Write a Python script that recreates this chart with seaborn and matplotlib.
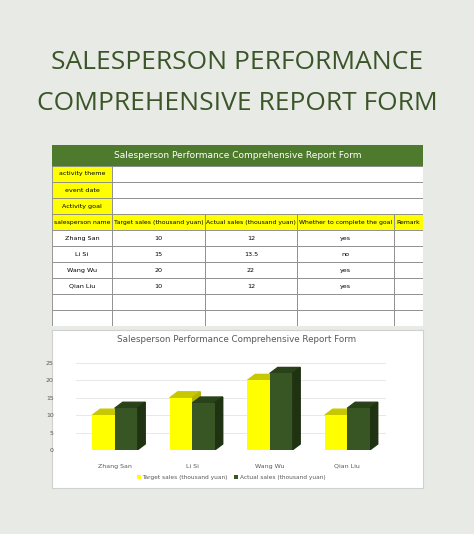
import matplotlib
matplotlib.use("Agg")
import matplotlib.pyplot as plt
from matplotlib.patches import Rectangle, Polygon
import seaborn as sns
import pandas as pd
import numpy as np

names = ["Zhang San", "Li Si", "Wang Wu", "Qian Liu"]
target = [10, 15, 20, 10]
actual = [12, 13.5, 22, 12]
complete = ["yes", "no", "yes", "yes"]
info_labels = ["activity theme", "event date", "Activity goal"]
headers = ["salesperson name", "Target sales (thousand yuan)", "Actual sales (thousand yuan)",
           "Whether to complete the goal", "Remark"]
s_target = "Target sales (thousand yuan)"
s_actual = "Actual sales (thousand yuan)"

W, H = 474, 534
fig = plt.figure(figsize=(W/100, H/100), dpi=100)
fig.patch.set_facecolor("#e8ebe5")
def fx(x): return x / W
def fy(y): return 1 - y / H

fig.text(0.5, fy(62), "SALESPERSON PERFORMANCE", ha="center", va="center", fontsize=19, color="#3b5529", family="Open Sans")
fig.text(0.5, fy(103), "COMPREHENSIVE REPORT FORM", ha="center", va="center", fontsize=19, color="#3b5529", family="Open Sans")

# ---- table (axes in pixel units) ----
tax = fig.add_axes([fx(52), fy(326), fx(423) - fx(52), fy(145) - fy(326)])
tax.set_xlim(52, 423); tax.set_ylim(326, 145); tax.axis("off")
cols = [52, 112, 205, 297, 394, 423]
green = "#4e7a2e"; yellow = "#ffff00"
tax.add_patch(Rectangle((52, 145), 371, 21, color=green))
tax.text(237.5, 155.5, "Salesperson Performance Comprehensive Report Form", ha="center", va="center", color="white", fontsize=6.5)
rows = [166 + 16 * i for i in range(11)]
for i, lab in enumerate(info_labels):
    y0 = rows[i]
    tax.add_patch(Rectangle((52, y0), 60, 16, facecolor=yellow, edgecolor="#888", lw=0.6))
    tax.add_patch(Rectangle((112, y0), 311, 16, facecolor="white", edgecolor="#888", lw=0.6))
    tax.text(82, y0 + 8, lab, ha="center", va="center", fontsize=4.6)
y0 = rows[3]
for j, h in enumerate(headers):
    tax.add_patch(Rectangle((cols[j], y0), cols[j+1] - cols[j], 16, facecolor=yellow, edgecolor="#888", lw=0.6))
    tax.text((cols[j] + cols[j+1]) / 2, y0 + 8, h, ha="center", va="center", fontsize=4.4)
data_rows = [[n, f"{t:g}", f"{a:g}", c, ""] for n, t, a, c in zip(names, target, actual, complete)]
data_rows += [[""] * 5] * 2
for i, r in enumerate(data_rows):
    y0 = rows[4 + i]
    for j, v in enumerate(r):
        tax.add_patch(Rectangle((cols[j], y0), cols[j+1] - cols[j], 16, facecolor="white", edgecolor="#888", lw=0.6))
        tax.text((cols[j] + cols[j+1]) / 2, y0 + 8, v, ha="center", va="center", fontsize=4.6)

# ---- chart box ----
bax = fig.add_axes([fx(52), fy(488), fx(423) - fx(52), fy(330) - fy(488)])
bax.set_xticks([]); bax.set_yticks([])
for s in bax.spines.values(): s.set_color("#d0d0d0")
bax.set_facecolor("white")
fig.text(fx(237), fy(339), "Salesperson Performance Comprehensive Report Form", ha="center", va="center", fontsize=6.3, color="#595959")

ax = fig.add_axes([fx(76), fy(450), fx(386) - fx(76), fy(363) - fy(450)])
df = pd.DataFrame({"name": names * 2, "value": target + actual,
                   "series": [s_target] * 4 + [s_actual] * 4})
sns.barplot(data=df, x="name", y="value", hue="series", palette=["#ffff00", "#375623"],
            width=0.58, ax=ax, saturation=1, legend=True, zorder=3)
ax.set_ylim(0, 25)
ax.set_yticks([0, 5, 10, 15, 20, 25])
ax.set_facecolor("none")
ax.grid(axis="y", color="#e4e4e4", lw=0.6); ax.set_axisbelow(True)
for s in ax.spines.values(): s.set_visible(False)
ax.set_xlabel(""); ax.set_ylabel("")
ax.tick_params(length=0, labelsize=4.5, colors="#595959", pad=10)
ax.tick_params(axis="y", pad=16)

# 3D depth for bars (drawn behind all fronts, so yellow sides hide behind green)
fig.canvas.draw()
inv = ax.transData.inverted()
dx_px, dy_px = 8, 6
p0 = inv.transform((0, 0)); p1 = inv.transform((dx_px, dy_px))
ddx, ddy = p1[0] - p0[0], p1[1] - p0[1]
for bar in list(ax.patches):
    if bar.get_height() <= 0: continue
    x, w, h = bar.get_x(), bar.get_width(), bar.get_height()
    fc = bar.get_facecolor()
    is_y = fc[0] > 0.9
    top_c = "#c8c800" if is_y else "#2a4219"
    side_c = "#b5b500" if is_y else "#1f3312"
    z = 2.5 if is_y else 2.7
    ax.add_patch(Polygon([(x, h), (x + w, h), (x + w + ddx, h + ddy), (x + ddx, h + ddy)], color=top_c, zorder=z))
    ax.add_patch(Polygon([(x + w, 0), (x + w + ddx, ddy), (x + w + ddx, h + ddy), (x + w, h)], color=side_c, zorder=z))

ax.legend(loc="upper center", bbox_to_anchor=(0.5, -0.23), ncol=2, frameon=False,
          fontsize=4.2, handlelength=0.7, handleheight=0.7, columnspacing=1, handletextpad=0.3,
          labelcolor="#595959")

fig.savefig("out.png", dpi=100, facecolor=fig.get_facecolor())
